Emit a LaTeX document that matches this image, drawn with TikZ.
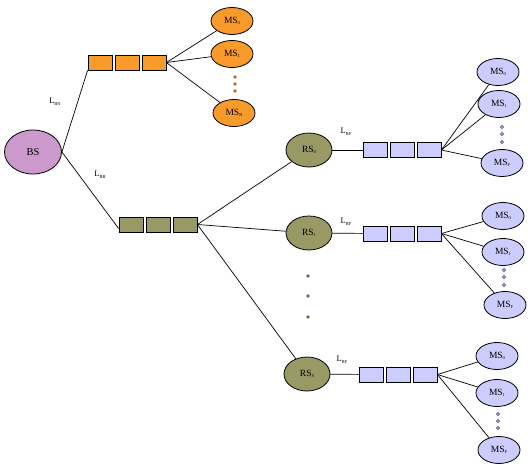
\documentclass[tikz,border=0pt]{standalone}
\usepackage{fontspec}
\setmainfont{Liberation Serif}
\usetikzlibrary{shapes.geometric,calc}
\definecolor{cOrange}{HTML}{F99B2B}
\definecolor{cPurple}{HTML}{CC99CC}
\definecolor{cOlive}{HTML}{999966}
\definecolor{cBlue}{HTML}{CCCCFF}
\definecolor{cOrDot}{HTML}{C8641E}
\definecolor{cBlDot}{HTML}{5E5E8A}
\definecolor{cOlDot}{HTML}{6E6E40}
\newcommand{\sbs}[1]{\raisebox{-1.6pt}{\fontsize{4.5}{5}\selectfont #1}}
\tikzset{
  ell/.style={ellipse,draw=black,line width=0.8pt,inner sep=0pt,font=\fontsize{9.5}{10}\selectfont},
  msor/.style={ell,fill=cOrange,minimum width=42pt,minimum height=27pt},
  msbl/.style={ell,fill=cBlue,minimum width=42pt,minimum height=27pt},
  rsn/.style={ell,fill=cOlive,minimum width=46pt,minimum height=34pt},
  bsn/.style={ell,fill=cPurple,minimum width=57pt,minimum height=44pt,font=\fontsize{10.5}{11}\selectfont},
  qbox/.style={rectangle,draw=black,line width=0.8pt,minimum width=24pt,minimum height=15pt,inner sep=0pt},
  qor/.style={qbox,fill=cOrange},
  qol/.style={qbox,fill=cOlive},
  qbl/.style={qbox,fill=cBlue},
  conn/.style={line width=0.7pt,black},
  lab/.style={font=\fontsize{8.5}{9}\selectfont,inner sep=0pt},
  dotor/.style={circle,fill=cOrDot,inner sep=0pt,minimum size=3.6pt},
  dotbl/.style={circle,fill=cBlue,draw=cBlDot,line width=0.7pt,inner sep=0pt,minimum size=3.4pt},
  dotol/.style={circle,fill=cOlDot,inner sep=0pt,minimum size=3.6pt},
}
\begin{document}
\begin{tikzpicture}[x=1pt,y=-1pt]
\useasboundingbox (0,0) rectangle (531,469);
% BS
\node[bsn] (bs) at (33,152) {BS};
% orange branch
\node[qor] (qo1) at (100,62.5) {};
\node[qor] (qo2) at (127,62.5) {};
\node[qor] (qo3) at (154,62.5) {};
\node[msor] (mo0) at (232,21) {MS\sbs{0}};
\node[msor] (mo1) at (232,54) {MS\sbs{1}};
\node[msor] (moN) at (234,113) {MS\sbs{N}};
\node[dotor] (do1) at (235,77) {};
\node[dotor] (do2) at (235,84) {};
\node[dotor] (do3) at (235,91) {};
\draw[conn] (bs.east) -- (qo1.south west);
\draw[conn] (qo3.east) -- (mo0);
\draw[conn] (qo3.east) -- (mo1);
\draw[conn] (qo3.east) -- (moN);
\node[lab] (lbn) at (55,102) {L\sbs{BN}};
% olive branch
\node[qol] (qg1) at (131,224.5) {};
\node[qol] (qg2) at (158,224.5) {};
\node[qol] (qg3) at (185,224.5) {};
\draw[conn] (bs.east) -- ($(qg1.west)!0.5!(qg1.south west)$);
\node[lab] (lbr) at (100,175) {L\sbs{BR}};
\node[rsn] (rs0) at (309,150) {RS\sbs{0}};
\node[rsn] (rs1) at (309,233) {RS\sbs{1}};
\node[rsn] (rsS) at (307,374) {RS\sbs{S}};
\node[dotol] (dr1) at (308,276) {};
\node[dotol] (dr2) at (308,296) {};
\node[dotol] (dr3) at (308,317) {};
\draw[conn] (qg3.east) -- (rs0);
\draw[conn] (qg3.east) -- (rs1);
\draw[conn] (qg3.east) -- (rsS);
% RS0 group
\node[qbl] (qa1) at (375,150) {};
\node[qbl] (qa2) at (402,150) {};
\node[qbl] (qa3) at (429,150) {};
\draw[conn] (rs0) -- (qa1);
\node[lab] (la) at (346,132) {L\sbs{RF}};
\node[msbl] (ma0) at (498,72) {MS\sbs{0}};
\node[msbl] (ma1) at (499,104) {MS\sbs{1}};
\node[msbl] (maF) at (502,163) {MS\sbs{F}};
\node[dotbl] (da1) at (502,127) {};
\node[dotbl] (da2) at (502,134) {};
\node[dotbl] (da3) at (502,142) {};
\draw[conn] (qa3.east) -- (ma0);
\draw[conn] (qa3.east) -- (ma1);
\draw[conn] (qa3.east) -- (maF);
% RS1 group
\node[qbl] (qb1) at (375,233.5) {};
\node[qbl] (qb2) at (402,233.5) {};
\node[qbl] (qb3) at (429,233.5) {};
\draw[conn] (rs1) -- (qb1);
\node[lab] (lb) at (346,222) {L\sbs{RF}};
\node[msbl] (mb0) at (503,216) {MS\sbs{0}};
\node[msbl] (mb1) at (503,252) {MS\sbs{1}};
\node[msbl] (mbF) at (505,305) {MS\sbs{F}};
\node[dotbl] (db1) at (504,270) {};
\node[dotbl] (db2) at (504,277) {};
\node[dotbl] (db3) at (504,285) {};
\draw[conn] (qb3.east) -- (mb0);
\draw[conn] (qb3.east) -- (mb1);
\draw[conn] (qb3.east) -- (mbF);
% RSS group
\node[qbl] (qc1) at (371,374.5) {};
\node[qbl] (qc2) at (398,374.5) {};
\node[qbl] (qc3) at (425,374.5) {};
\draw[conn] (rsS) -- (qc1);
\node[lab] (lc) at (342,360) {L\sbs{RF}};
\node[msbl] (mc0) at (497,356) {MS\sbs{0}};
\node[msbl] (mc1) at (497,393) {MS\sbs{1}};
\node[msbl] (mcF) at (499,450) {MS\sbs{F}};
\node[dotbl] (dc1) at (498,414) {};
\node[dotbl] (dc2) at (498,421) {};
\node[dotbl] (dc3) at (498,428) {};
\draw[conn] (qc3.east) -- (mc0);
\draw[conn] (qc3.east) -- (mc1);
\draw[conn] (qc3.east) -- (mcF);
\end{tikzpicture}
\end{document}
